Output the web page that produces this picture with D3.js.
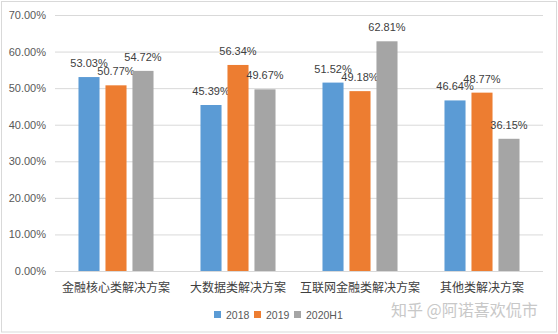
<!DOCTYPE html>
<meta charset="utf-8">
<style>
body { margin: 0; background: #fff; }
.num { font: 11px "Liberation Sans", Arial, sans-serif; fill: #404040; }
.tick text { font: 11px "Liberation Sans", Arial, sans-serif; fill: #595959; }
.cat { font: 12px "Noto Sans CJK SC", sans-serif; fill: #404040; text-anchor: middle; }
.legend text { font: 10.5px "Liberation Sans", Arial, sans-serif; fill: #595959; }
</style>
<svg width="558" height="334"></svg>
<script src="https://cdn.jsdelivr.net/npm/d3@7"></script>
<script>

var categories = ["金融核心类解决方案", "大数据类解决方案", "互联网金融类解决方案", "其他类解决方案"];
var seriesNames = ["2018", "2019", "2020H1"];
var v2018 = [0.5303, 0.4539, 0.5152, 0.4664];
var v2019 = [0.5077, 0.5634, 0.4918, 0.4877];
var v2020 = [0.5472, 0.4967, 0.6281, 0.3615];
var colors = ["#5b9bd5", "#ed7d31", "#a5a5a5"];

var values = [v2018, v2019, v2020];

var svg = d3.select("svg"),
    plotL = 55, plotR = 543, plotT = 15, plotB = 271;

// frame
svg.append("rect")
    .attr("x", 1.5).attr("y", 1.5)
    .attr("width", 555).attr("height", 330.5)
    .attr("fill", "none").attr("stroke", "#d9d9d9");

var x0 = d3.scaleBand()
    .domain(categories)
    .range([plotL, plotR])
    .paddingInner(0.385)
    .paddingOuter(0.1925);

var x1 = d3.scaleBand()
    .domain(seriesNames)
    .range([0, x0.bandwidth()])
    .paddingInner(0.22);

var y = d3.scaleLinear()
    .domain([0, 0.7])
    .range([plotB, plotT]);

// gridlines + y labels
var yAxis = svg.append("g")
    .attr("transform", "translate(" + plotL + ",0)")
    .call(d3.axisLeft(y).ticks(7).tickFormat(d3.format(".2%")).tickSize(-(plotR - plotL)).tickPadding(9));
yAxis.select(".domain").remove();
yAxis.selectAll(".tick line").attr("stroke", "#d9d9d9");

var groups = svg.selectAll("g.grp")
    .data(categories)
    .enter().append("g")
      .attr("class", "grp")
      .attr("transform", function(d) { return "translate(" + x0(d) + ",0)"; });

seriesNames.forEach(function(s, si) {
  groups.append("rect")
      .attr("x", x1(s))
      .attr("width", x1.bandwidth())
      .attr("y", function(d, i) { return y(values[si][i]); })
      .attr("height", function(d, i) { return plotB - y(values[si][i]); })
      .attr("fill", colors[si]);

  groups.append("text")
      .attr("class", "num")
      .attr("text-anchor", "middle")
      .attr("x", x1(s) + x1.bandwidth() / 2)
      .attr("y", function(d, i) { return y(values[si][i]) - 10; })
      .text(function(d, i) { return d3.format(".2%")(values[si][i]); });
});

// baseline
svg.append("line")
    .attr("x1", plotL).attr("x2", plotR)
    .attr("y1", plotB + 0.5).attr("y2", plotB + 0.5)
    .attr("stroke", "#d9d9d9");

// category labels
svg.selectAll("text.cat")
    .data(categories)
    .enter().append("text")
      .attr("class", "cat")
      .attr("x", function(d) { return x0(d) + x0.bandwidth() / 2; })
      .attr("y", 291.5)
      .text(function(d) { return d; });

// legend
var legend = svg.append("g").attr("class", "legend");
var lx = [214, 254, 294];
seriesNames.forEach(function(s, i) {
  legend.append("rect")
      .attr("x", lx[i]).attr("y", 311)
      .attr("width", 7).attr("height", 7)
      .attr("fill", colors[i]);
  legend.append("text")
      .attr("x", lx[i] + 12).attr("y", 318.5)
      .text(s);
});

// watermark
svg.append("text")
    .attr("x", 391).attr("y", 316)
    .style("font", "16px 'Noto Sans CJK SC', sans-serif")
    .attr("fill", "#c8c8c8")
    .text("知乎 @阿诺喜欢侃市");

</script>
